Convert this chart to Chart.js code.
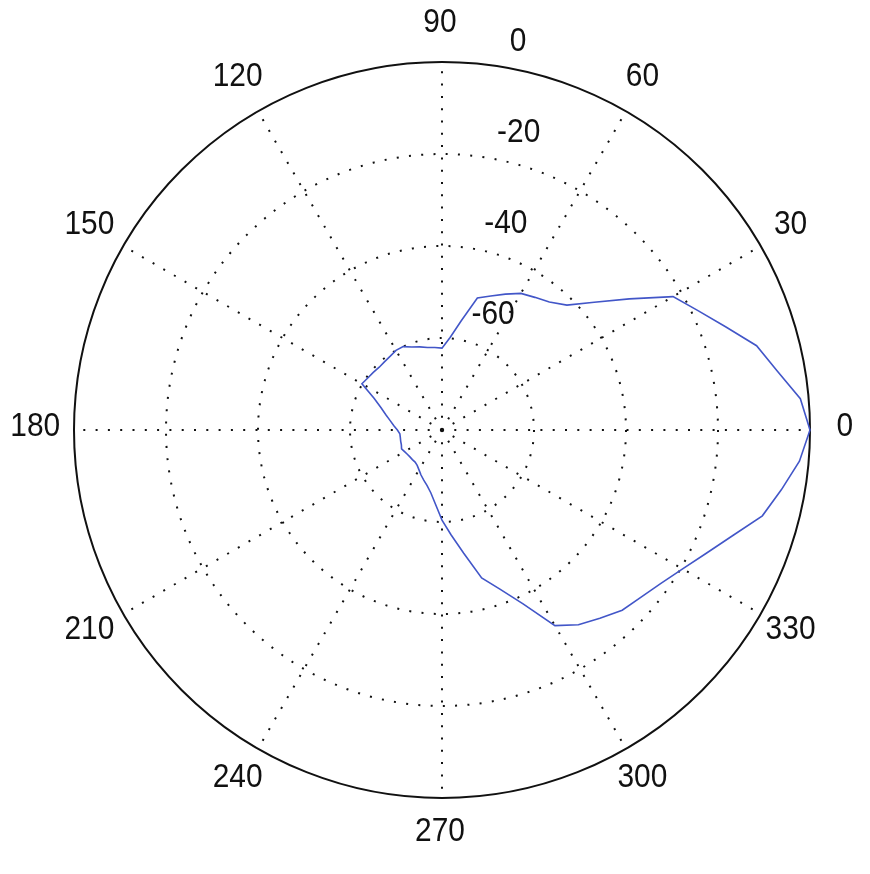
<!DOCTYPE html>
<html>
<head>
<meta charset="utf-8">
<script src="https://cdn.jsdelivr.net/npm/chart.js@4/dist/chart.umd.min.js"></script>
<style>
  html, body { margin: 0; padding: 0; background: #fff; }
  canvas { display: block; }
</style>
</head>
<body>
<canvas id="polarChart" width="870" height="874"></canvas>
<script>
// Angles (deg, counter-clockwise from the right) and gain (dB)
const angles = [
  0, 5, 10, 15, 20, 25, 30, 35, 40, 45, 50, 55,
  60, 65, 70, 75, 80, 85, 90, 95, 100, 105, 110, 115,
  120, 125, 130, 135, 140, 145, 150, 155, 160, 165, 170, 175,
  180, 185, 190, 195, 200, 205, 210, 215, 220, 225, 230, 235,
  240, 245, 250, 255, 260, 265, 270, 275, 280, 285, 290, 295,
  300, 305, 310, 315, 320, 325, 330, 335, 340, 345, 350, 355
];
const gain = [
  0, -1.8, -6.0, -9.2, -14.4, -18.6, -22.0, -30.3, -36.8, -41.6, -43.7, -44.8,
  -45.7, -47.4, -49.0, -50.3, -55.9, -59.8, -62.2, -62.0, -61.8, -61.3, -60.8, -60.0,
  -60.0, -60.4, -60.6, -60.7, -60.5, -60.3, -59.9, -63.7, -65.9, -67.4, -68.6, -69.5,
  -70.3, -70.8, -70.8, -70.7, -70.6, -70.3, -70.6, -70.8, -70.9, -70.9, -70.9, -70.6,
  -70.0, -69.2, -68.4, -67.5, -66.1, -63.8, -60.4, -57.1, -52.8, -46.7, -43.2, -38.3,
  -30.9, -28.3, -26.6, -24.6, -23.5, -21.9, -19.6, -16.6, -12.8, -7.9, -5.1, -2.0
];
// Radial axis: centre is -80 dB, outer circle 0 dB
const rTicks = [-80, -60, -40, -20, 0];
const rTickLabels = ['-60', '-40', '-20', '0'];
const angleTickLabels = ['0', '30', '60', '90', '120', '150', '180', '210', '240', '270', '300', '330'];

// radar runs clockwise, so feed it in reverse order (0, 355, 350, ...)
const n = angles.length;
const order = angles.map((a, i) => (n - i) % n);
const labels = order.map(i => angles[i]);
const values = order.map(i => gain[i]);

const FONT = "34px 'Liberation Sans', Arial, sans-serif";
const SQUEEZE = 0.88;   // the original font is narrower
const DOTS = [2, 10.3];

function squeezedText(ctx, txt, x, y) {
  ctx.save();
  ctx.translate(x, y);
  ctx.scale(SQUEEZE, 1);
  ctx.fillText(txt, 0, 0);
  ctx.restore();
}

// draws the angle labels and radial tick labels the way MATLAB's polar() does
const polarLabels = {
  id: 'polarLabels',
  afterDatasetsDraw(chart) {
    const scale = chart.scales.r;
    const ctx = chart.ctx;
    ctx.save();
    ctx.font = FONT;
    ctx.fillStyle = '#111';

    // angle labels at 1.1 x outer radius
    ctx.textAlign = 'center';
    ctx.textBaseline = 'middle';
    labels.forEach((a, i) => {
      if (a % 30 !== 0) return;
      const p = scale.getPointPosition(i, scale.drawingArea * 1.1);
      squeezedText(ctx, angleTickLabels[a / 30], p.x - 2, p.y - 3);
    });

    // radial labels along 82 degrees
    ctx.textAlign = 'left';
    ctx.textBaseline = 'alphabetic';
    const c82 = Math.cos(82 * Math.PI / 180);
    const s82 = Math.sin(82 * Math.PI / 180);
    rTicks.slice(1).forEach((v, k) => {
      const d = scale.getDistanceFromCenterForValue(v) + 4.6;
      const x = scale.xCenter + d * c82 + 16;
      const y = scale.yCenter - d * s82 - 10.5;
      squeezedText(ctx, rTickLabels[k], x, y);
    });
    ctx.restore();
  }
};

const ctx = document.getElementById('polarChart').getContext('2d');
const polarChart = new Chart(ctx, {
  type: 'radar',
  data: {
    labels: labels,
    datasets: [{
      data: values,
      borderColor: '#4256c8',
      borderWidth: 1.6,
      pointRadius: 0,
      fill: false,
      tension: 0
    }]
  },
  options: {
    responsive: false,
    animation: false,
    devicePixelRatio: 1,
    layout: {
      padding: { left: 74, right: 60, top: 62, bottom: 76 }
    },
    plugins: {
      legend: { display: false },
      tooltip: { enabled: false }
    },
    scales: {
      r: {
        startAngle: 90,
        min: rTicks[0],
        max: rTicks[rTicks.length - 1],
        ticks: { display: false, stepSize: 20 },
        pointLabels: { display: false },
        angleLines: {
          color: '#111',
          lineWidth: (c) => (labels[c.index] % 30 === 0 ? 2 : 0),
          borderDash: DOTS
        },
        grid: {
          circular: true,
          color: '#111',
          lineWidth: 2
        },
        border: {
          dash: (c) => (c.tick && c.tick.value === 0 ? [] : DOTS)
        }
      }
    }
  },
  plugins: [polarLabels]
});
</script>
</body>
</html>
